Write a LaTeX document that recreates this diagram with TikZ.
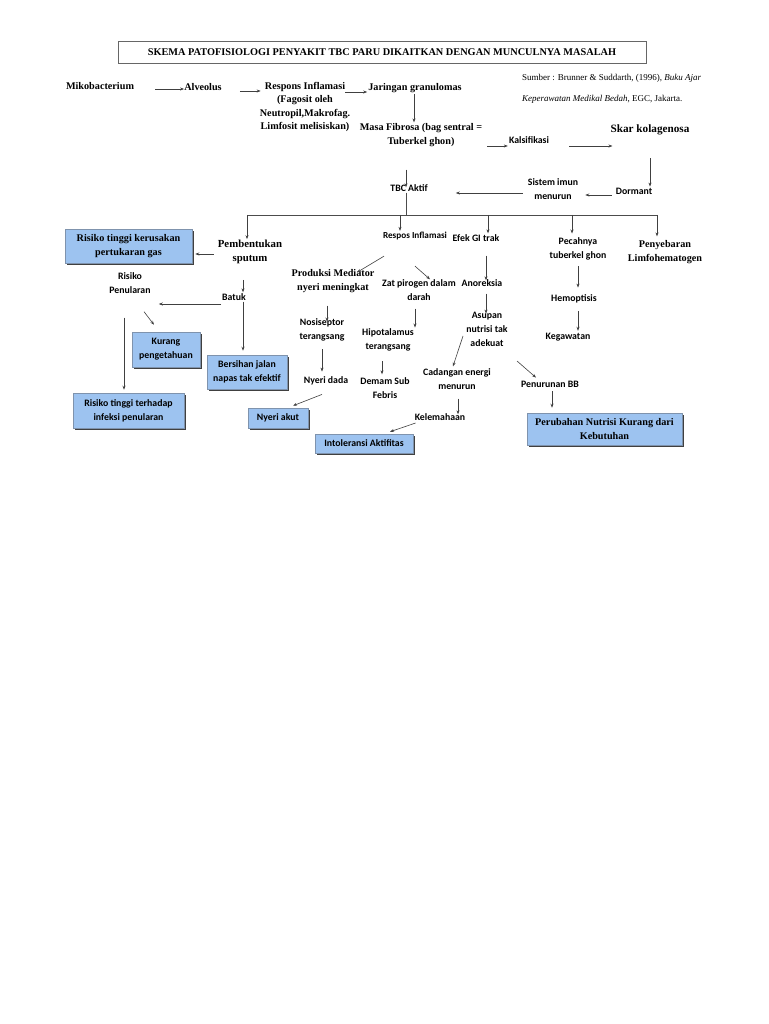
\documentclass[tikz,border=0pt]{standalone}
\usepackage{fontspec}
\setmainfont{Liberation Serif}
\newfontfamily\hurufsans{Carlito}
\usepackage{xcolor}
\usepackage{tikz}
\usetikzlibrary{arrows.meta,shadows}
\definecolor{kotakbiru}{HTML}{9DC3F0}
\definecolor{tepibiru}{HTML}{7F93AD}

\begin{document}
\begin{tikzpicture}[x=1pt,y=-1pt,
    tebal/.style={font=\fontsize{10.2}{13.5}\selectfont\bfseries,align=center,inner sep=1pt},
    biasa/.style={font=\hurufsans\fontsize{9.8}{14}\selectfont\bfseries,align=center,inner sep=1pt},
    kotak/.style={draw=tepibiru,fill=kotakbiru,line width=0.5pt,inner sep=1pt,
        drop shadow={shadow xshift=2pt,shadow yshift=-2pt,fill=black!75,opacity=1}},
    panah/.style={-{Stealth[length=4pt,width=3pt]},draw=black!75,line width=0.6pt},
    garis/.style={draw=black!70,line width=0.6pt}]
    \path[fill=white] (0,0) rectangle (768,1024);
    \useasboundingbox (0,0) rectangle (768,1024);

    \node[draw=black!60,line width=0.6pt,minimum width=528pt,minimum height=22pt,font=\fontsize{10.3}{12}\selectfont\bfseries] (judul) at (382,52) {SKEMA PATOFISIOLOGI PENYAKIT TBC PARU DIKAITKAN DENGAN MUNCULNYA MASALAH};
    \node[align=left,anchor=west,inner sep=0pt,font=\fontsize{9}{21}\selectfont] (sumber) at (522,89) {Sumber : Brunner \& Suddarth, (1996), \textit{Buku Ajar}\\\textit{Keperawatan Medikal Bedah}, EGC, Jakarta.};

    \node[tebal] (miko) at (100,86) {Mikobacterium};
    \node[tebal] (alv) at (203,87) {Alveolus};
    \node[tebal] (respons) at (305,107) {Respons Inflamasi\\(Fagosit oleh\\Neutropil,Makrofag.\\Limfosit melisiskan)};
    \node[tebal] (jaringan) at (415,88) {Jaringan granulomas};
    \node[tebal] (masa) at (421,135) {Masa Fibrosa (bag sentral =\\Tuberkel ghon)};
    \node[biasa] (kals) at (529,140) {Kalsifikasi};
    \node[tebal,font=\fontsize{11.2}{13.5}\selectfont\bfseries] (skar) at (650,130) {Skar kolagenosa};
    \node[biasa] (dormant) at (634,191) {Dormant};
    \node[biasa] (sistem) at (553,189) {Sistem imun\\menurun};
    \node[biasa] (tbc) at (409,188) {TBC Aktif};

    \node[tebal,font=\fontsize{10.8}{13.5}\selectfont\bfseries] (pemb) at (250,252) {Pembentukan\\sputum};
    \node[biasa,font=\hurufsans\fontsize{9.2}{14}\selectfont\bfseries] (respos) at (415,236) {Respos Inflamasi};
    \node[biasa] (efek) at (476,238) {Efek GI trak};
    \node[biasa] (pecah) at (578,249) {Pecahnya\\tuberkel ghon};
    \node[tebal] (penye) at (665,252) {Penyebaran\\Limfohematogen};

    \node[kotak,tebal,minimum width=127pt,minimum height=34pt] (rtk) at (128.5,246) {Risiko tinggi kerusakan\\pertukaran gas};
    \node[biasa] (risikopen) at (130,283) {Risiko\\Penularan};
    \node[biasa] (batuk) at (234,297) {Batuk};
    \node[kotak,biasa,minimum width=68pt,minimum height=35pt] (kurang) at (166,349.5) {Kurang\\pengetahuan};
    \node[kotak,biasa,minimum width=111pt,minimum height=35pt] (rti) at (128.5,410.5) {Risiko tinggi terhadap\\infeksi penularan};
    \node[kotak,biasa,minimum width=80pt,minimum height=34pt] (bersih) at (247,372) {Bersihan jalan\\napas tak efektif};

    \node[tebal] (prod) at (333,281) {Produksi Mediator\\nyeri meningkat};
    \node[biasa] (zat) at (419,290) {Zat pirogen dalam\\darah};
    \node[biasa] (nosi) at (322,330) {Nosiseptor\\terangsang};
    \node[biasa] (dada) at (326,381) {Nyeri dada};
    \node[kotak,biasa,minimum width=60pt,minimum height=20pt] (nyeriakut) at (278,418) {Nyeri akut};
    \node[biasa] (hipo) at (388,340) {Hipotalamus\\terangsang};
    \node[biasa] (demam) at (385,388) {Demam Sub\\Febris};

    \node[biasa] (anor) at (482,283) {Anoreksia};
    \node[biasa] (asupan) at (487,329) {Asupan\\nutrisi tak\\adekuat};
    \node[biasa] (cadangan) at (457,379) {Cadangan energi\\menurun};
    \node[biasa] (lemah) at (440,417) {Kelemahaan};
    \node[kotak,biasa,minimum width=98pt,minimum height=19pt] (intol) at (364,443.5) {Intoleransi Aktifitas};
    \node[biasa] (turun) at (550,384) {Penurunan BB};
    \node[kotak,tebal,minimum width=155pt,minimum height=32pt] (perub) at (604.5,429) {Perubahan Nutrisi Kurang dari\\Kebutuhan};

    \node[biasa] (hemo) at (574,299) {Hemoptisis};
    \node[biasa] (gawat) at (568,337) {Kegawatan};

    \draw[panah] ([xshift=20pt,yshift=-3pt]miko.east) -- ([xshift=1pt,yshift=-2pt]alv.west);
    \draw[panah] ([xshift=17pt,yshift=-4pt]alv.east) -- ([xshift=2pt,yshift=16pt]respons.west);
    \draw[panah] ([xshift=-6pt,yshift=15pt]respons.east) -- ([yshift=-4pt]jaringan.west);
    \draw[panah] ([xshift=-1pt]jaringan.south) -- ([xshift=-1pt]jaringan.south |- masa.north);
    \draw[panah] ([xshift=4pt,yshift=-11pt]masa.east) -- ([yshift=-6pt]kals.west);
    \draw[panah] ([xshift=19pt,yshift=-6pt]kals.east) -- ([xshift=3pt,yshift=-16pt]skar.west);
    \draw[panah] ([yshift=-22pt]skar.south) -- (skar.south |- dormant.north);
    \draw[panah] ([xshift=-3pt,yshift=-4pt]dormant.west) -- ([xshift=6pt,yshift=-6pt]sistem.east);
    \draw[panah] ([xshift=-4pt,yshift=-4pt]sistem.west) -- ([xshift=27pt,yshift=-5pt]tbc.east);
    \draw[panah] ([xshift=-15pt,yshift=-22pt]masa.south) -- ([xshift=-3pt,yshift=-4pt]tbc.north);

    \coordinate (cabang) at (406,215);
    \coordinate (c1) at (247,215);
    \coordinate (c2) at (400,215);
    \coordinate (c3) at (488,215);
    \coordinate (c4) at (572,215);
    \coordinate (c5) at (657,215);
    \draw[garis] ([xshift=-3pt]tbc.south) -- (cabang);
    \draw[garis] (c1) -- (c5);
    \draw[panah] (c1) -- (c1 |- pemb.north);
    \draw[panah] (c2) -- (c2 |- respos.north);
    \draw[panah] (c3) -- (c3 |- efek.north);
    \draw[panah] (c4) -- ([yshift=3pt]c4 |- pecah.north);
    \draw[panah] (c5) -- ([yshift=3pt]c5 |- penye.north);

    \draw[panah] ([xshift=-3pt,yshift=-2pt]pemb.west) -- ([xshift=3pt,yshift=-8pt]rtk.east);
    \draw[panah] ([xshift=-7pt,yshift=-15pt]pemb.south) -- ([xshift=9pt]batuk.north);
    \draw[panah] ([yshift=-7pt]batuk.west) -- ([xshift=7pt,yshift=-21pt]risikopen.east);
    \draw[panah] ([xshift=14pt,yshift=-17pt]risikopen.south) -- ([xshift=-12pt,yshift=7pt]kurang.north);
    \draw[panah] ([xshift=-6pt,yshift=-23pt]risikopen.south) -- ([xshift=-4.5pt,yshift=3pt]rti.north);
    \draw[panah] ([xshift=9pt]batuk.south) -- ([xshift=-4pt,yshift=4pt]bersih.north);

    \draw[panah] ([xshift=-31pt,yshift=-15pt]respos.south) -- ([xshift=24pt,yshift=-4pt]prod.north);
    \draw[panah] ([yshift=-25pt]respos.south) -- ([xshift=11pt,yshift=-1pt]zat.north);
    \draw[panah] ([xshift=-6pt,yshift=-12pt]prod.south) -- ([xshift=5pt,yshift=-4pt]nosi.north);
    \draw[panah] ([yshift=-7pt]nosi.south) -- ([xshift=-4pt,yshift=4pt]dada.north);
    \draw[panah] ([xshift=-4pt,yshift=-8pt]dada.south) -- ([xshift=15pt,yshift=2pt]nyeriakut.north);
    \draw[panah] ([xshift=-4pt,yshift=-7pt]zat.south) -- ([xshift=27pt]hipo.north);
    \draw[panah] ([xshift=-6pt,yshift=-9pt]hipo.south) -- ([xshift=-3pt,yshift=2pt]demam.north);

    \draw[panah] ([xshift=10pt,yshift=-13pt]efek.south) -- ([xshift=4pt,yshift=-2pt]anor.north);
    \draw[panah] ([xshift=4pt,yshift=-6pt]anor.south) -- ([xshift=-1pt,yshift=-3pt]asupan.north);
    \draw[panah] ([xshift=-24pt,yshift=-7pt]asupan.center) -- ([xshift=-4pt,yshift=1pt]cadangan.north);
    \draw[panah] ([xshift=30pt,yshift=-32pt]asupan.center) -- ([xshift=-14pt,yshift=2pt]turun.north);
    \draw[panah] ([xshift=1pt,yshift=-8pt]cadangan.south) -- ([xshift=18pt,yshift=-2pt]lemah.north);
    \draw[panah] ([xshift=2pt,yshift=-6pt]lemah.west) -- ([xshift=26pt,yshift=2pt]intol.north);
    \draw[panah] ([xshift=2pt,yshift=-3pt]turun.south) -- ([xshift=-52.5pt,yshift=5pt]perub.north);

    \draw[panah] ([yshift=-5pt]pecah.south) -- ([xshift=4pt,yshift=6pt]hemo.north);
    \draw[panah] ([xshift=4pt,yshift=-7pt]hemo.south) -- ([xshift=10pt,yshift=1pt]gawat.north);
\end{tikzpicture}
\end{document}
